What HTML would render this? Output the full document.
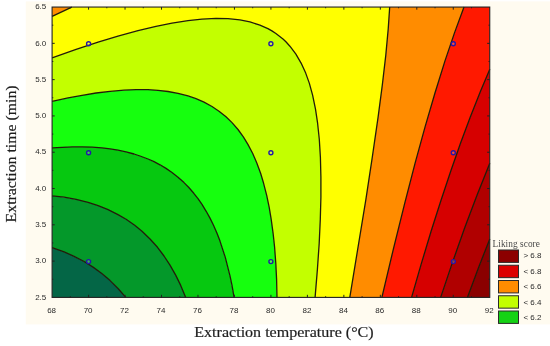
<!DOCTYPE html>
<html><head><meta charset="utf-8"><title>Contour plot</title>
<style>
html,body{margin:0;padding:0;background:#fff;}
svg{display:block}
.t{font-family:"Liberation Sans",sans-serif;font-size:8px;fill:#2a2a2a}
.s{font-family:"Liberation Serif",serif;fill:#1e1e1e;stroke:#1e1e1e;stroke-width:.18}
</style></head><body>
<svg width="550" height="346" viewBox="0 0 550 346">
<rect width="550" height="346" fill="#fff"/>
<rect x="25.8" y="1.4" width="524.2" height="323" fill="#FFFBF0"/>
<g shape-rendering="geometricPrecision">
<path fill="#046646" d="M52.1,249.3 52.1,247.7 60.1,250.4 68.1,253.6 80.1,259.4 86.1,262.7 92.1,266.5 101.6,273.4 110.1,280.6 118,288.5 125.8,297.4 52.1,297.4Z"/>
<path fill="#04982A" d="M52.1,197.3 52.1,195.8 68.1,197.9 82.1,200.8 94.1,204.3 106.1,208.8 115.6,213.3 126,219.3 134,224.8 142,231.3 150,239 157.5,247.3 163.6,255.3 170,265.1 175.8,275.4 180.7,285.4 185.7,297.4 125.8,297.4 118,288.5 110.1,280.6 102.1,273.7 93.4,267.4 84.1,261.5 74.1,256.3 64.1,251.9 52.1,247.7Z"/>
<path fill="#06C810" d="M60,147.2 70.1,146.8 80.1,146.7 90.1,147 98.1,147.5 106.1,148.3 114.1,149.5 122,151 130,152.9 137.8,155.2 144,157.4 150,159.9 157,163.2 164,167.2 170,171.1 175.6,175.3 180,178.9 184.7,183.3 190,188.8 194,193.5 198.4,199.3 202.5,205.3 206.2,211.3 210,218.1 214,226.4 217,233.3 220.1,241.3 222.8,249.3 225.8,259.4 230.3,277.4 234.1,297.4 185.7,297.4 180.7,285.4 175.8,275.4 170,265.1 164,256 157.5,247.3 150,239 142,231.3 134.7,225.3 126.1,219.3 118,214.6 108.1,209.7 98.1,205.7 88.1,202.4 76.1,199.4 64.1,197.2 52.1,195.8 52.1,147.8Z"/>
<path fill="#16FF0E" d="M111.4,91.2 122,90.2 134,89.7 144,89.6 154,90 164,91 172,92.1 180,93.8 188,95.9 196,98.7 202,101.2 209.7,105.2 216,109 222,113.4 228,118.6 232.5,123.2 237.7,129.2 241.9,134.9 246.1,141.2 250.6,149.2 254.4,157.2 257.7,165.2 260.6,173.3 263.6,183.3 266.2,193.3 268.4,203.3 270.6,215.3 272.4,227.3 273.8,239.3 275.1,253.3 276,267.4 277,297.4 234.1,297.4 232,285.4 229.9,275.4 226.9,263.4 224.1,253.3 220.8,243.3 217.8,235.3 214,226.4 210,218.1 206,210.9 201.2,203.3 196.9,197.3 192,191.1 186,184.6 180.4,179.3 174,174 168,169.7 162,166 156,162.7 150,159.9 144,157.4 132,153.5 126,151.9 118,150.2 104.1,148.1 88.1,146.9 70.1,146.8 52.1,147.8 52.1,101.4 68.1,97.9 84.1,94.9 98.1,92.8Z"/>
<path fill="#C3FF00" d="M201.8,19.1 212,18.5 220,18.4 230,18.8 238,19.6 245.9,21 253.9,23 261.9,25.9 267.9,28.6 273.9,32.1 279.9,36.4 285.2,41.1 289.9,46.2 295.2,53.1 298.9,59.1 302.1,65.1 305.7,73.1 308.6,81.1 311.6,91.2 313.9,100.8 315.9,111.2 317.4,121.2 318.7,133.2 319.7,145.2 320.5,159.2 320.9,173.3 321,189.3 320.2,221.3 318.3,257.4 315.1,297.4 277,297.4 276.6,279.4 275.7,261.4 274.4,245.3 272.6,229.3 270.6,215.3 268,201.3 265.3,189.3 261.9,177.5 258.5,167.2 254.4,157.2 249.9,148 244.8,139.2 239.9,132.1 234,124.8 228,118.6 220,111.9 213.1,107.2 206,103.1 198,99.5 190,96.5 182,94.3 172,92.1 164,91 154,90 144,89.6 132,89.7 120,90.4 108.1,91.5 96.1,93 82.1,95.3 68.1,97.9 52.1,101.4 52.1,57.8 76.1,49.4 98.1,42.2 118,36.2 138,30.7 156,26.4 172,23.1 188,20.6Z"/>
<path fill="#FFFF00" d="M67.5,9.1 71.8,7.1 389.7,7 388.2,29.1 385.8,55.1 382.3,85.1 378.1,117.2 372.3,157.2 365.9,199.3 349.8,297.4 315.1,297.4 317.4,269.4 319,245.3 320.2,221.3 320.9,199.3 321,179.3 320.6,161.2 319.6,143.2 318.1,127.2 316.2,113.2 313.5,99.2 310.5,87.1 306.5,75.1 302.1,65.1 297.7,57.1 291.9,48.6 285.9,41.8 281.9,38.1 278.2,35.1 273.9,32.1 269.9,29.7 261.9,25.9 257.9,24.3 251.9,22.4 241.9,20.2 230,18.8 218,18.4 204,18.9 190,20.3 174,22.8 156,26.4 138,30.7 118,36.2 98.1,42.2 76.1,49.4 52.1,57.8 52.1,16.3Z"/>
<path fill="#FF8C00" d="M52.1,7 71.8,7.1 52.1,16.3ZM389.7,7 464,7 454.4,33.1 444.9,61.1 434.9,93.2 425,127.2 415.1,163.2 404.7,203.3 393.3,249.3 381.9,297.4 349.8,297.4 365.9,199.3 372.3,157.2 378.1,117.2 382.3,85.1 385.8,55.1 388.2,29.1Z"/>
<path fill="#FF1900" d="M463.2,9.1 464,7 489.8,7 489.8,69.2 480.5,91.2 470.2,117.2 460.5,143.2 450.7,171.2 440.7,201.3 431.1,231.3 421.4,263.4 411.6,297.4 381.9,297.4 393.3,249.3 404.7,203.3 415.1,163.2 425,127.2 434.9,93.2 444.3,63.1 453.8,34.9Z"/>
<path fill="#D60000" d="M488.9,71.1 489.8,69.2 489.8,163.2 477,195.3 464.9,227.3 452.8,261.4 440.7,297.4 411.6,297.4 421.4,263.4 431.1,231.3 440.7,201.3 450.7,171.2 460.5,143.2 469.5,119.2 478.9,95.2Z"/>
<path fill="#B00000" d="M489.7,163.2 489.8,238.9 478.6,267.4 467.4,297.4 440.7,297.4 452.8,261.4 464.9,227.3 477,195.3Z"/>
<path fill="#8A0000" d="M489.6,239.3 489.8,238.9 489.8,297.4 467.4,297.4 478.6,267.4Z"/>
<path fill="none" stroke="#221c08" stroke-width="1.3" stroke-linejoin="round" d="M125.8,297.4 118,288.5 110.1,280.6 102.1,273.7 93.4,267.4 84.1,261.5 74.1,256.3 64.1,251.9 52.1,247.7M185.7,297.4 180.7,285.4 175.8,275.4 170,265.1 164,256 157.5,247.3 150,239 142,231.3 134.7,225.3 126.1,219.3 118,214.6 108.1,209.7 98.1,205.7 88.1,202.4 76.1,199.4 64.1,197.2 52.1,195.8M234.1,297.4 232,285.4 230,275.8 225.3,257.4 220,241.1 217,233.3 213.5,225.3 210,218.1 206.2,211.3 202,204.4 198,198.7 193.8,193.3 188.6,187.3 184,182.6 178,177.2 172,172.5 166,168.4 160,164.8 154,161.7 148,159 140,156 134,154 126,151.9 118,150.2 110.1,148.9 102.1,147.9 92.1,147.1 82.1,146.8 72.1,146.8 52.1,147.8M277,297.4 276.6,279.4 275.8,263.4 274.6,247.3 273.1,233.3 271.2,219.3 269.2,207.3 266.7,195.3 263.6,183.3 260.6,173.3 256.9,163.2 252.6,153.2 247.9,144.4 243.5,137.2 238,129.5 232,122.6 226,116.8 219,111.2 212,106.5 204,102.1 196,98.7 188,95.9 178,93.3 168,91.5 158,90.3 148,89.7 136,89.6 124,90.1 110.1,91.3 96.1,93 82.1,95.3 68.1,97.9 52.1,101.4M315.1,297.4 317.4,269.4 319.2,243.3 320.3,219.3 320.9,197.3 320.9,177.3 320.4,157.2 319.3,139.2 317.6,123.2 315.5,109.2 312.6,95.2 309.3,83.1 305.7,73.1 301.1,63.1 295.9,54.2 289.9,46.2 285.9,41.8 283,39.1 275.9,33.5 271.9,30.9 267.9,28.6 259.9,25.1 249.9,21.9 239.9,19.9 228,18.6 216,18.4 202,19.1 188,20.6 172,23.1 156,26.4 138,30.7 118,36.2 98.1,42.2 76.1,49.4 52.1,57.8M71.8,7.1 52.1,16.3M349.8,297.4 365.9,199.3 372.3,157.2 378.1,117.2 382.3,85.1 385.8,55.1 388.2,29.1 389.7,7M381.9,297.4 393.3,249.3 404.7,203.3 415.1,163.2 425,127.2 434.9,93.2 444.9,61.1 454.4,33.1 464,7M411.6,297.4 421.4,263.4 431.1,231.3 440.7,201.3 450.7,171.2 460.5,143.2 470.2,117.2 480.5,91.2 489.8,69.2M440.7,297.4 452.8,261.4 464.9,227.3 477,195.3 489.8,163.2M467.4,297.4 478.6,267.4 489.8,238.9"/>
</g>
<rect x="52.1" y="7.05" width="437.65" height="290.35" fill="none" stroke="#222" stroke-width="1.1"/>
<path d="M70.34,297.4v-1.2M70.34,7.05v1.2M88.57,297.4v-2.6M88.57,7.05v2.6M106.81,297.4v-1.2M106.81,7.05v1.2M125.04,297.4v-2.6M125.04,7.05v2.6M143.28,297.4v-1.2M143.28,7.05v1.2M161.51,297.4v-2.6M161.51,7.05v2.6M179.75,297.4v-1.2M179.75,7.05v1.2M197.98,297.4v-2.6M197.98,7.05v2.6M216.22,297.4v-1.2M216.22,7.05v1.2M234.45,297.4v-2.6M234.45,7.05v2.6M252.69,297.4v-1.2M252.69,7.05v1.2M270.93,297.4v-2.6M270.93,7.05v2.6M289.16,297.4v-1.2M289.16,7.05v1.2M307.40,297.4v-2.6M307.40,7.05v2.6M325.63,297.4v-1.2M325.63,7.05v1.2M343.87,297.4v-2.6M343.87,7.05v2.6M362.10,297.4v-1.2M362.10,7.05v1.2M380.34,297.4v-2.6M380.34,7.05v2.6M398.57,297.4v-1.2M398.57,7.05v1.2M416.81,297.4v-2.6M416.81,7.05v2.6M435.04,297.4v-1.2M435.04,7.05v1.2M453.28,297.4v-2.6M453.28,7.05v2.6M471.51,297.4v-1.2M471.51,7.05v1.2M52.1,279.25h1.2M489.75,279.25h-1.2M52.1,261.11h2.6M489.75,261.11h-2.6M52.1,242.96h1.2M489.75,242.96h-1.2M52.1,224.81h2.6M489.75,224.81h-2.6M52.1,206.67h1.2M489.75,206.67h-1.2M52.1,188.52h2.6M489.75,188.52h-2.6M52.1,170.37h1.2M489.75,170.37h-1.2M52.1,152.22h2.6M489.75,152.22h-2.6M52.1,134.08h1.2M489.75,134.08h-1.2M52.1,115.93h2.6M489.75,115.93h-2.6M52.1,97.78h1.2M489.75,97.78h-1.2M52.1,79.64h2.6M489.75,79.64h-2.6M52.1,61.49h1.2M489.75,61.49h-1.2M52.1,43.34h2.6M489.75,43.34h-2.6M52.1,25.20h1.2M489.75,25.20h-1.2" stroke="#222" stroke-width="1" fill="none"/>
<g fill="#fff" fill-opacity=".22" stroke="#2418a8" stroke-width="1.4"><circle cx="88.6" cy="261.6" r="2"/><circle cx="88.6" cy="152.7" r="2"/><circle cx="88.6" cy="43.8" r="2"/><circle cx="270.9" cy="261.6" r="2"/><circle cx="270.9" cy="152.7" r="2"/><circle cx="270.9" cy="43.8" r="2"/><circle cx="453.3" cy="261.6" r="2"/><circle cx="453.3" cy="152.7" r="2"/><circle cx="453.3" cy="43.8" r="2"/></g>
<g class="t" text-anchor="middle"><text x="51.6" y="313.3">68</text><text x="88.1" y="313.3">70</text><text x="124.5" y="313.3">72</text><text x="161.0" y="313.3">74</text><text x="197.5" y="313.3">76</text><text x="234.0" y="313.3">78</text><text x="270.4" y="313.3">80</text><text x="306.9" y="313.3">82</text><text x="343.4" y="313.3">84</text><text x="379.8" y="313.3">86</text><text x="416.3" y="313.3">88</text><text x="452.8" y="313.3">90</text><text x="489.2" y="313.3">92</text></g>
<g class="t" text-anchor="end"><text x="46.3" y="299.6">2.5</text><text x="46.3" y="263.3">3.0</text><text x="46.3" y="227.0">3.5</text><text x="46.3" y="190.7">4.0</text><text x="46.3" y="154.4">4.5</text><text x="46.3" y="118.1">5.0</text><text x="46.3" y="81.8">5.5</text><text x="46.3" y="45.5">6.0</text><text x="46.3" y="9.3">6.5</text></g>
<g class="t"><rect x="498.5" y="250.00" width="20" height="12.4" fill="#8C0000" stroke="#2a2a2a" stroke-width="1"/><text x="523.4" y="258.2">&gt; 6.8</text><rect x="498.5" y="265.25" width="20" height="12.4" fill="#DC0000" stroke="#2a2a2a" stroke-width="1"/><text x="523.4" y="273.6">&lt; 6.8</text><rect x="498.5" y="280.50" width="20" height="12.4" fill="#FF8C00" stroke="#2a2a2a" stroke-width="1"/><text x="523.4" y="289.1">&lt; 6.6</text><rect x="498.5" y="295.75" width="20" height="12.4" fill="#C3FF00" stroke="#2a2a2a" stroke-width="1"/><text x="523.4" y="304.6">&lt; 6.4</text><rect x="498.5" y="311.00" width="20" height="12.4" fill="#14D214" stroke="#2a2a2a" stroke-width="1"/><text x="523.4" y="320.1">&lt; 6.2</text></g>
<text class="s" x="492.5" y="246.6" font-size="9.3" textLength="47.4" lengthAdjust="spacing" style="fill:#4a4a4a;stroke:none">Liking score</text>
<text class="s" x="194.3" y="337.2" font-size="14" textLength="179.3" lengthAdjust="spacingAndGlyphs">Extraction temperature (°C)</text>
<text class="s" transform="translate(16.2,222.4) rotate(-90)" font-size="14" textLength="137" lengthAdjust="spacingAndGlyphs">Extraction time (min)</text>
</svg>
</body></html>
